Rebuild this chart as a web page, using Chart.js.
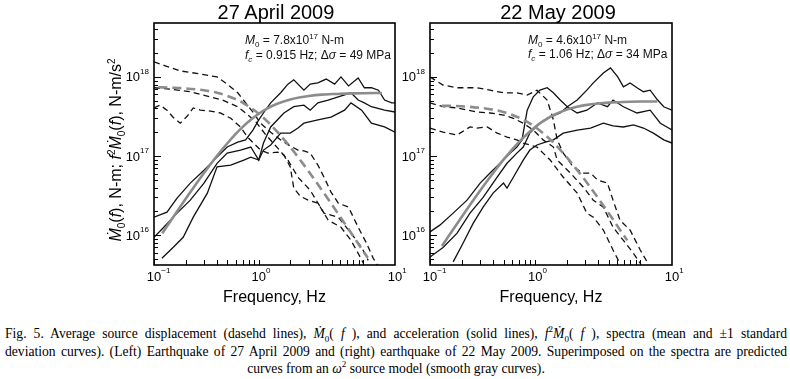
<!DOCTYPE html>
<html>
<head>
<meta charset="utf-8">
<script src="https://cdn.jsdelivr.net/npm/chart.js@4.4.1/dist/chart.umd.min.js"></script>
<style>
  body { margin: 0; background: #fff; width: 790px; height: 379px; position: relative; overflow: hidden;
         font-family: "Liberation Sans", Arial, sans-serif; color: #000; }
  .abs { position: absolute; }
  .title { font-size: 20px; line-height: 24px; width: 200px; text-align: center; top: 0; }
  .note { font-size: 12px; line-height: 15px; white-space: nowrap; color: #111; }
  .note sub, .note sup { font-size: 8px; line-height: 0; }
  .ylab { font-size: 16px; line-height: 20px; width: 240px; height: 20px; text-align: center; white-space: nowrap;
          left: -4px; top: 140px; transform: rotate(-90deg); }
  .ylab sub, .ylab sup { font-size: 10px; line-height: 0; }
  .cap { font-family: "Liberation Serif", "Times New Roman", serif; font-size: 13.6px; line-height: 18px;
         left: 5px; width: 782px; }
  .cap sub, .cap sup { font-size: 9px; line-height: 0; }
  .j { text-align: justify; text-align-last: justify; }
  .c { text-align: center; }
</style>
</head>
<body>

<div class="abs" style="left:100px;top:0;width:310px;height:307px"><canvas id="aprChart" width="310" height="307"></canvas></div>
<div class="abs" style="left:400px;top:0;width:300px;height:307px"><canvas id="mayChart" width="300" height="307"></canvas></div>

<div class="abs title" style="left:176px">27 April 2009</div>
<div class="abs title" style="left:458px">22 May 2009</div>

<div class="abs note" style="left:245px;top:33px"><i>M</i><sub>0</sub> = 7.8x10<sup>17</sup> N-m</div>
<div class="abs note" style="left:245px;top:48px"><i>f</i><sub><i>c</i></sub> = 0.915 Hz; &Delta;<i>&sigma;</i> = 49 MPa</div>
<div class="abs note" style="left:528px;top:33px"><i>M</i><sub>0</sub> = 4.6x10<sup>17</sup> N-m</div>
<div class="abs note" style="left:528px;top:47px"><i>f</i><sub><i>c</i></sub> = 1.06 Hz; &Delta;<i>&sigma;</i> = 34 MPa</div>

<div class="abs ylab"><i>M&#775;</i><sub>0</sub>(<i>f</i>), N-m; <i>f</i><sup>2</sup><i>M&#775;</i><sub>0</sub>(<i>f</i>), N-m/s<sup>2</sup></div>

<div class="abs cap j" style="top:325px">Fig. 5. Average source displacement (dasehd lines), <i>M&#775;</i><sub>0</sub>( <i>f</i> ), and acceleration (solid lines), <i>f</i><sup>2</sup><i>M&#775;</i><sub>0</sub>( <i>f</i> ), spectra (mean and &plusmn;1 standard</div>
<div class="abs cap j" style="top:343px">deviation curves). (Left) Earthquake of 27 April 2009 and (right) earthquake of 22 May 2009. Superimposed on the spectra are predicted</div>
<div class="abs cap c" style="top:360px">curves from an <i>&omega;</i><sup>2</sup> source model (smooth gray curves).</div>

<script>
// spectra: [frequency Hz, level]
// 27 April 2009
const aprDispHi = [[0.1,1.55e18],[0.128,1.38e18],[0.178,1.19e18],[0.277,1.09e18],[0.4,1.0e18],[0.5,8.1e17],[0.63,6.3e17],[0.75,4.7e17],[0.88,3.6e17],[1.04,2.6e17],[1.3,2.0e17],[1.62,1.6e17],[2.0,1.34e17],[2.37,1.19e17],[2.7,1.16e17],[3.1,1.09e17],[3.67,7.7e16],[4.2,5.4e16],[4.9,3.5e16],[5.75,2.54e16],[7.2,2.26e16],[8.0,1.69e16],[8.9,1.26e16],[10.7,7.9e15],[12.4,5.1e15],[13.6,4.2e15]];
const aprDispMean = [[0.1,7.3e17],[0.142,7.0e17],[0.222,6.5e17],[0.345,5.6e17],[0.45,5.1e17],[0.63,4.2e17],[0.75,3.5e17],[0.94,2.7e17],[1.17,1.85e17],[1.52,1.26e17],[1.9,8.9e16],[2.37,5.4e16],[3.1,3.7e16],[4.2,1.9e16],[5.75,1.69e16],[7.6,1.06e16],[9.6,7.0e15],[11.1,4.8e15]];
const aprDispLo = [[0.1,4.06e17],[0.114,4.4e17],[0.133,3.8e17],[0.152,3.1e17],[0.178,2.6e17],[0.208,3.2e17],[0.237,4.06e17],[0.277,3.8e17],[0.345,3.7e17],[0.43,3.5e17],[0.54,3.0e17],[0.67,2.33e17],[0.78,1.74e17],[0.89,1.46e17],[1.04,1.19e17],[1.22,1.09e17],[1.52,1.12e17],[1.74,1.03e17],[2.0,7.3e16],[2.16,3.94e16],[2.5,3.1e16],[2.96,2.77e16],[3.67,2.54e16],[4.6,1.55e16],[6.1,1.26e16],[7.6,8.6e15],[8.9,5.9e15],[10.0,4.4e15]];
const aprDispModel = [[0.11,7.4e17],[0.15,7.3e17],[0.2,7.16e17],[0.3,6.78e17],[0.4,6.3e17],[0.5,5.77e17],[0.6,5.24e17],[0.7,4.73e17],[0.85,4.03e17],[1.0,3.42e17],[1.2,2.76e17],[1.5,2.03e17],[2.0,1.3e17],[2.5,8.86e16],[3.0,6.38e16],[4.0,3.73e16],[5.0,2.43e16],[6.0,1.7e16],[7.0,1.26e16],[8.5,8.6e15],[10,6.2e15],[11,5.2e15]];
const aprAccHi = [[0.1,1.69e16],[0.133,1.95e16],[0.166,2.94e16],[0.222,4.55e16],[0.3,6.6e16],[0.4,9.7e16],[0.5,1.3e17],[0.63,1.5e17],[0.75,1.6e17],[0.88,2.13e17],[1.0,2.86e17],[1.11,3.5e17],[1.3,4.7e17],[1.62,6.3e17],[1.9,8.1e17],[2.16,9.2e17],[2.7,6.8e17],[3.1,8.1e17],[3.67,8.4e17],[4.4,9.4e17],[5.3,8.1e17],[6.1,1.0e18],[7.2,7.7e17],[8.9,9.7e17],[10.2,7.3e17],[11.9,7.3e17],[13.9,6.8e17],[15.9,5.1e17],[18.6,4.7e17],[20,4.7e17]];
const aprAccMean = [[0.1,9.4e15],[0.122,1.23e16],[0.166,1.9e16],[0.222,2.77e16],[0.3,4.55e16],[0.4,8.1e16],[0.5,1.09e17],[0.67,1.19e17],[0.84,1.3e17],[1.0,8.9e16],[1.11,1.46e17],[1.3,2.33e17],[1.74,3.5e17],[2.16,4.2e17],[2.7,4.4e17],[3.1,3.8e17],[3.67,4.7e17],[4.6,5.1e17],[5.75,5.6e17],[7.6,6.3e17],[8.9,5.1e17],[10.2,4.7e17],[11.9,4.2e17],[15.9,3.8e17],[20,3.6e17]];
const aprAccLo = [[0.119,5.1e15],[0.152,7.0e15],[0.19,9.4e15],[0.237,1.69e16],[0.323,3.4e16],[0.4,7.3e16],[0.54,7.7e16],[0.72,8.9e16],[0.84,9.7e16],[1.0,8.9e16],[1.11,1.19e17],[1.3,1.38e17],[1.62,1.95e17],[2.0,1.95e17],[2.37,2.26e17],[2.7,2.6e17],[3.67,2.86e17],[4.9,3.1e17],[6.6,3.8e17],[7.6,4.7e17],[9.6,3.8e17],[11.9,2.6e17],[15.9,2.33e17],[20,2.0e17]];
const aprAccModel = [[0.12,1.06e16],[0.15,1.64e16],[0.2,2.86e16],[0.25,4.36e16],[0.3,6.1e16],[0.4,1.01e17],[0.5,1.44e17],[0.6,1.89e17],[0.7,2.32e17],[0.85,2.91e17],[1.0,3.42e17],[1.2,3.97e17],[1.5,4.57e17],[2.0,5.19e17],[2.5,5.54e17],[3.0,5.74e17],[4.0,5.97e17],[5.0,6.07e17],[6.0,6.14e17],[8.0,6.2e17],[10,6.23e17],[15,6.26e17]];

// 22 May 2009
const mayDispHi = [[0.1,1.0e18],[0.133,7.9e17],[0.181,7.3e17],[0.28,7.3e17],[0.372,6.8e17],[0.5,6.3e17],[0.67,6.3e17],[0.84,5.9e17],[1.04,6.8e17],[1.3,5.1e17],[1.49,2.86e17],[1.62,1.6e17],[1.85,1.09e17],[2.3,7.3e16],[2.86,6.1e16],[3.36,6.1e16],[3.9,5.0e16],[4.87,4.55e16],[5.5,2.77e16],[6.4,1.55e16],[8.0,1.16e16],[9.98,6.5e15],[11.6,4.6e15]];
const mayDispMean = [[0.1,4.7e17],[0.133,4.2e17],[0.181,4.06e17],[0.28,3.6e17],[0.372,3.5e17],[0.5,3.3e17],[0.62,3.0e17],[0.77,2.6e17],[0.96,2.13e17],[1.19,1.6e17],[1.49,1.3e17],[1.62,8.9e16],[2.16,6.1e16],[2.86,4.07e16],[3.57,2.77e16],[4.45,2.26e16],[5.5,1.26e16],[6.9,8.6e15],[8.6,5.9e15],[10.0,4.4e15]];
const mayDispLo = [[0.1,2.26e17],[0.133,2.0e17],[0.181,1.85e17],[0.24,2.33e17],[0.28,2.26e17],[0.35,2.33e17],[0.435,1.95e17],[0.54,1.74e17],[0.67,1.6e17],[0.77,1.46e17],[0.89,1.38e17],[1.04,1.3e17],[1.39,8.9e16],[1.85,5.4e16],[2.51,3.4e16],[3.1,1.9e16],[3.57,1.69e16],[4.45,1.16e16],[5.5,6.5e15],[6.4,4.4e15]];
const mayDispModel = [[0.13,4.33e17],[0.15,4.31e17],[0.2,4.25e17],[0.3,4.07e17],[0.4,3.85e17],[0.5,3.6e17],[0.6,3.33e17],[0.7,3.06e17],[0.85,2.68e17],[1.0,2.33e17],[1.2,1.93e17],[1.5,1.47e17],[2.0,9.6e16],[2.5,6.7e16],[3.0,4.9e16],[4.0,2.9e16],[5.0,1.9e16],[6.0,1.33e16],[7.5,8.6e15]];
const mayAccHi = [[0.1,1.1e16],[0.124,1.34e16],[0.166,1.9e16],[0.225,2.77e16],[0.3,4.55e16],[0.372,6.1e16],[0.464,8.1e16],[0.58,1.09e17],[0.67,1.3e17],[0.75,1.6e17],[0.84,3.8e17],[0.96,5.6e17],[1.11,6.8e17],[1.3,7.3e17],[1.49,6.3e17],[1.73,5.1e17],[2.02,4.2e17],[2.51,5.1e17],[3.1,6.8e17],[3.57,8.4e17],[4.45,1.12e18],[5.2,1.3e18],[6.1,1.0e18],[6.9,7.5e17],[8.0,8.4e17],[9.3,7.3e17],[10.7,6.5e17],[12.4,6.8e17],[14.6,5.1e17],[16.7,4.2e17],[20,3.8e17]];
const mayAccMean = [[0.1,5.3e15],[0.133,7.0e15],[0.181,1.06e16],[0.24,1.9e16],[0.32,3.0e16],[0.435,5.4e16],[0.54,8.1e16],[0.67,1.09e17],[0.77,1.3e17],[0.89,1.95e17],[1.11,2.6e17],[1.39,3.1e17],[1.73,3.5e17],[2.02,4.2e17],[2.51,3.5e17],[3.1,3.8e17],[3.9,4.7e17],[4.87,4.2e17],[5.5,5.1e17],[6.9,4.2e17],[9.3,3.5e17],[12.4,3.8e17],[15.5,2.6e17],[20,2.13e17]];
const mayAccLo = [[0.166,4.6e15],[0.206,7.9e15],[0.257,1.41e16],[0.32,2.26e16],[0.398,3.4e16],[0.5,4.55e16],[0.54,3.94e16],[0.62,5.4e16],[0.77,8.9e16],[0.89,1.19e17],[1.04,1.38e17],[1.25,1.5e17],[1.49,1.6e17],[1.85,1.95e17],[2.51,2.13e17],[3.36,2.26e17],[4.45,2.6e17],[5.5,2.4e17],[6.9,2.33e17],[8.6,2.47e17],[10.7,2.26e17],[13.3,1.95e17],[16.7,1.6e17],[20,1.46e17]];
const mayAccModel = [[0.13,7.3e15],[0.15,9.7e15],[0.2,1.7e16],[0.3,3.67e16],[0.4,6.16e16],[0.5,9.0e16],[0.6,1.2e17],[0.7,1.5e17],[0.85,1.93e17],[1.0,2.33e17],[1.2,2.78e17],[1.5,3.3e17],[2.0,3.86e17],[2.5,4.19e17],[3.0,4.4e17],[4.0,4.62e17],[5.0,4.73e17],[6.0,4.79e17],[8.0,4.86e17],[10,4.89e17],[14.5,4.9e17]];

// axis ranges and labelled ticks
const xMin = 0.1, xMax = 20;
const yMin = 4.2e15, yMax = 4.8e18;
const xMajorTicks = [0.1, 1, 20];
const xMajorLabels = [['10', '\u22121'], ['10', '0'], ['10', '1']];
const yMajorTicks = [1e16, 1e17, 1e18];
const yMajorLabels = [['10', '16'], ['10', '17'], ['10', '18']];

const FONT = '"Liberation Sans", Arial, sans-serif';
const GRAY = '#8c8c8c';

function isDecade(v) {
  const l = Math.log10(v);
  return Math.abs(l - Math.round(l)) < 1e-6;
}

// minor/major log ticks inside the range
function logTicks(lo, hi) {
  const out = [];
  for (let e = Math.floor(Math.log10(lo)); e <= Math.ceil(Math.log10(hi)); e++) {
    for (let m = 1; m <= 9; m++) {
      const v = m * Math.pow(10, e);
      if (v >= lo * 0.999 && v <= hi * 1.001) out.push(v);
    }
  }
  return out;
}

function drawPow(ctx, label, x, y, align) {
  ctx.font = '13px ' + FONT;
  const wb = ctx.measureText(label[0]).width;
  ctx.font = '8px ' + FONT;
  const we = ctx.measureText(label[1]).width;
  const left = align === 'right' ? x - wb - we : x - wb / 2;
  ctx.textAlign = 'left';
  ctx.textBaseline = 'middle';
  ctx.font = '13px ' + FONT;
  ctx.fillText(label[0], left, y + 1);
  ctx.font = '8px ' + FONT;
  ctx.fillText(label[1], left + wb, y - 5);
}

// frame, inward ticks and 10^n labels
const axisDecor = {
  id: 'axisDecor',
  afterDatasetsDraw(chart) {
    const { ctx, chartArea: a } = chart;
    const xs = chart.scales.x, ys = chart.scales.y;
    ctx.save();
    ctx.strokeStyle = '#000';
    ctx.lineWidth = 1;
    ctx.beginPath();
    ys.ticks.forEach(t => {
      const p = Math.round(ys.getPixelForValue(t.value)) + 0.5;
      const len = isDecade(t.value) ? 7 : 4;
      ctx.moveTo(a.left, p);
      ctx.lineTo(a.left + len, p);
    });
    xs.ticks.forEach(t => {
      if (t.value >= xMax) return;
      const p = Math.round(xs.getPixelForValue(t.value)) + 0.5;
      ctx.moveTo(p, a.bottom);
      ctx.lineTo(p, a.bottom - 5);
    });
    ctx.stroke();
    ctx.lineWidth = 1.6;
    ctx.strokeRect(a.left, a.top, a.right - a.left, a.bottom - a.top);
    ctx.fillStyle = '#000';
    yMajorTicks.forEach((v, i) => drawPow(ctx, yMajorLabels[i], a.left - 5, ys.getPixelForValue(v), 'right'));
    xMajorTicks.forEach((v, i) => drawPow(ctx, xMajorLabels[i], xs.getPixelForValue(v), a.bottom + 11, 'center'));
    ctx.restore();
  }
};

function pts(arr) {
  return arr.map(p => ({ x: p[0], y: p[1] }));
}

function curve(arr, kind) {
  const ds = { data: pts(arr), pointRadius: 0, fill: false, tension: 0 };
  if (kind === 'modelDash') Object.assign(ds, { borderColor: GRAY, borderWidth: 2.6, borderDash: [9, 5], tension: 0.4, cubicInterpolationMode: 'monotone' });
  if (kind === 'modelSolid') Object.assign(ds, { borderColor: GRAY, borderWidth: 2.6, tension: 0.4, cubicInterpolationMode: 'monotone' });
  if (kind === 'dash') Object.assign(ds, { borderColor: '#111', borderWidth: 1.3, borderDash: [6, 4] });
  if (kind === 'solid') Object.assign(ds, { borderColor: '#111', borderWidth: 1.3 });
  return ds;
}

function makeChart(id, s, yAxisWidth, rightPad) {
  return new Chart(document.getElementById(id), {
    type: 'line',
    data: {
      datasets: [
        curve(s.dispModel, 'modelDash'),
        curve(s.accModel, 'modelSolid'),
        curve(s.dispHi, 'dash'),
        curve(s.dispMean, 'dash'),
        curve(s.dispLo, 'dash'),
        curve(s.accHi, 'solid'),
        curve(s.accMean, 'solid'),
        curve(s.accLo, 'solid'),
      ],
    },
    options: {
      responsive: false,
      animation: false,
      layout: { padding: { top: 23, right: rightPad, left: 0, bottom: 0 } },
      plugins: { legend: { display: false }, tooltip: { enabled: false } },
      scales: {
        x: {
          type: 'logarithmic',
          min: xMin,
          max: xMax,
          bounds: 'data',
          grid: { display: false },
          border: { display: false },
          ticks: { display: false },
          afterBuildTicks: axis => { axis.ticks = logTicks(xMin, 9).concat([10, xMax]).map(v => ({ value: v })); },
          afterFit: axis => { axis.height = 42; },
          title: { display: true, text: 'Frequency, Hz', color: '#000', padding: 0, font: { family: FONT, size: 16 } },
        },
        y: {
          type: 'logarithmic',
          min: yMin,
          max: yMax,
          bounds: 'data',
          grid: { display: false },
          border: { display: false },
          ticks: { display: false },
          afterBuildTicks: axis => { axis.ticks = logTicks(yMin, yMax).map(v => ({ value: v })); },
          afterFit: axis => { axis.width = yAxisWidth; },
        },
      },
    },
    plugins: [axisDecor],
  });
}

makeChart('aprChart', {
  dispHi: aprDispHi, dispMean: aprDispMean, dispLo: aprDispLo, dispModel: aprDispModel,
  accHi: aprAccHi, accMean: aprAccMean, accLo: aprAccLo, accModel: aprAccModel,
}, 54, 15);

makeChart('mayChart', {
  dispHi: mayDispHi, dispMean: mayDispMean, dispLo: mayDispLo, dispModel: mayDispModel,
  accHi: mayAccHi, accMean: mayAccMean, accLo: mayAccLo, accModel: mayAccModel,
}, 30, 28);
</script>
</body>
</html>
